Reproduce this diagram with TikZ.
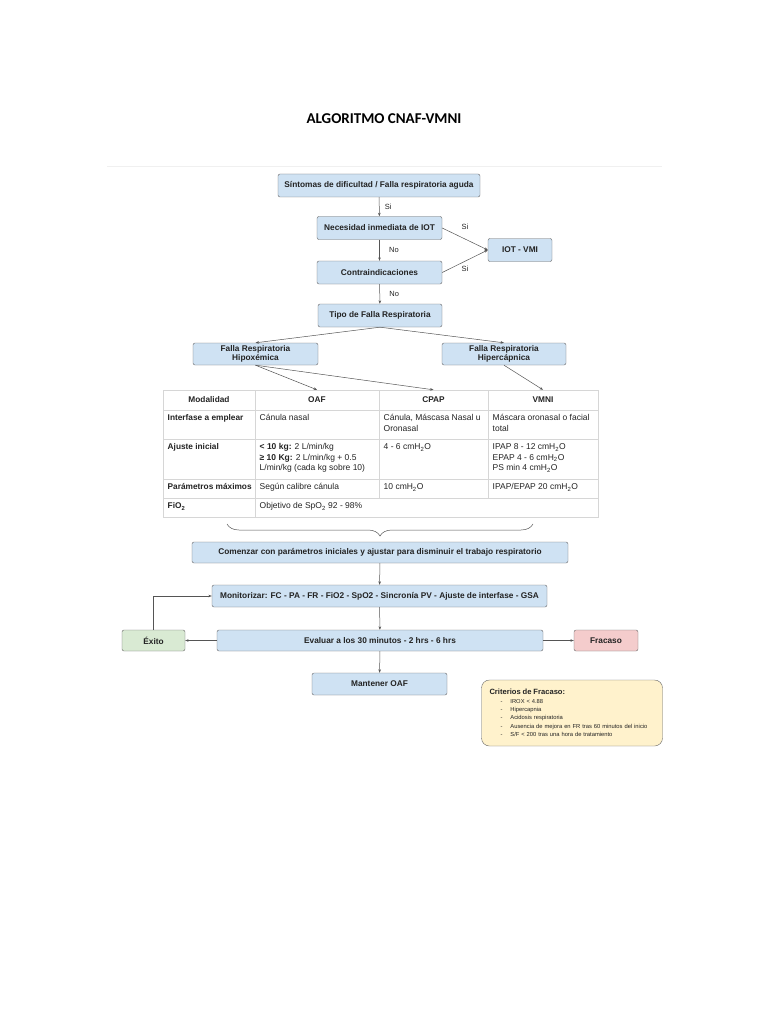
\documentclass[tikz,border=0pt]{standalone}
\usepackage{fontspec}
\setmainfont{Liberation Sans}
\newfontfamily\titlefont{Carlito}
\usetikzlibrary{arrows.meta, decorations.pathreplacing}

\definecolor{boxblue}{RGB}{207,226,243}
\definecolor{boxline}{RGB}{102,102,102}
\definecolor{okgreen}{RGB}{217,234,211}
\definecolor{badred}{RGB}{244,204,204}
\definecolor{critfill}{RGB}{255,242,204}
\definecolor{arrowgray}{RGB}{85,85,85}
\definecolor{gridgray}{RGB}{214,214,214}
\definecolor{textgray}{RGB}{35,35,35}

\tikzset{
  box/.style={rectangle, rounded corners=2pt, draw=boxline, fill=boxblue, text=textgray,
    font=\bfseries\fontsize{8.3}{9.3}\selectfont, align=center, minimum height=23, inner sep=1pt},
  greenbox/.style={box, fill=okgreen},
  redbox/.style={box, fill=badred},
  arr/.style={-{Stealth[length=3.5pt,width=2.6pt]}, draw=arrowgray, line width=0.5pt},
  lbl/.style={font=\fontsize{7.5}{8.5}\selectfont, text=textgray},
  gridline/.style={draw=gridgray, line width=0.6pt},
  headcell/.style={font=\bfseries\fontsize{8.3}{9.5}\selectfont, text=textgray, minimum height=20, inner sep=0pt},
  cell/.style={anchor=north west, inner xsep=4.5pt, inner ysep=4.5pt, align=left, text=textgray,
    font=\fontsize{8.5}{10.5}\selectfont},
  rowhead/.style={cell, font=\bfseries\fontsize{8.3}{10.5}\selectfont},
}

\begin{document}
\begin{tikzpicture}[x=1pt, y=-1pt]
    \useasboundingbox (0,0) rectangle (768,1024);

    % Title
    \node[font=\titlefont\bfseries\fontsize{15}{17}\selectfont, text=black] (title) at (384,119) {ALGORITMO CNAF-VMNI};
    \draw[gray!12, line width=1pt] (107,167) -- (662,167);

    % Draw nodes
    \node[box, minimum width=202] (sintomas) at (379,185.5) {Síntomas de dificultad / Falla respiratoria aguda};
    \node[box, minimum width=125] (necesidad) at (379.5,228) {Necesidad inmediata de IOT};
    \node[box, minimum width=64] (iot) at (520,250) {IOT - VMI};
    \node[box, minimum width=125] (contra) at (379.5,272.5) {Contraindicaciones};
    \node[box, minimum width=124] (tipo) at (380,315.5) {Tipo de Falla Respiratoria};
    \node[box, minimum width=125, minimum height=22] (hipox) at (255.5,354) {Falla Respiratoria\\Hipoxémica};
    \node[box, minimum width=124, minimum height=22] (hiperc) at (504,354) {Falla Respiratoria\\Hipercápnica};

    % Table
    \draw[gridline] (163,390) rectangle (598,517);
    \foreach \y in {410,439,479,498} \draw[gridline] (163,\y) -- (598,\y);
    \draw[gridline] (255,390) -- (255,517);
    \foreach \x in {379,488} \draw[gridline] (\x,390) -- (\x,498);

    \node[headcell, minimum width=92] (modalidad) at (209,400) {Modalidad};
    \node[headcell, minimum width=124] (oaf) at (317,400) {OAF};
    \node[headcell, minimum width=109] (cpap) at (433.5,400) {CPAP};
    \node[headcell, minimum width=110] (vmni) at (543,400) {VMNI};

    \node[rowhead] (interfase) at (163,410) {Interfase a emplear};
    \node[cell] (interoaf) at (255,410) {Cánula nasal};
    \node[cell] (intercpap) at (379,410) {Cánula, Máscasa Nasal u\\Oronasal};
    \node[cell] (intervmni) at (488,410) {Máscara oronasal o facial\\total};

    \node[rowhead] (ajuste) at (163,439) {Ajuste inicial};
    \node[cell] (ajusteoaf) at (255,439) {\textbf{< 10 kg:} 2 L/min/kg\\\textbf{≥ 10 Kg:} 2 L/min/kg + 0.5\\L/min/kg (cada kg sobre 10)};
    \node[cell] (ajustecpap) at (379,439) {4 - 6 cmH\textsubscript{2}O};
    \node[cell] (ajustevmni) at (488,439) {IPAP 8 - 12 cmH\textsubscript{2}O\\EPAP 4 - 6 cmH\textsubscript{2}O\\PS min 4 cmH\textsubscript{2}O};

    \node[rowhead] (maximos) at (163,479) {Parámetros máximos};
    \node[cell] (maxoaf) at (255,479) {Según calibre cánula};
    \node[cell] (maxcpap) at (379,479) {10 cmH\textsubscript{2}O};
    \node[cell] (maxvmni) at (488,479) {IPAP/EPAP 20 cmH\textsubscript{2}O};

    \node[rowhead] (fio) at (163,498) {FiO\textsubscript{2}};
    \node[cell] (fiotodos) at (255,498) {Objetivo de SpO\textsubscript{2} 92 - 98\%};

    % Brace under the table
    \coordinate (braceL) at (227,524);
    \coordinate (braceR) at (533,524);
    \draw[arrowgray, line width=0.5pt, decorate, decoration={brace, mirror, amplitude=12pt}] (braceL) -- (braceR);

    \node[box, minimum width=376, minimum height=21] (comenzar) at (380,552.5) {Comenzar con parámetros iniciales y ajustar para disminuir el trabajo respiratorio};
    \node[box, minimum width=335, minimum height=22] (monitor) at (379.5,596) {Monitorizar: FC - PA - FR - FiO2 - SpO2 - Sincronía PV - Ajuste de interfase - GSA};
    \node[box, minimum width=326, minimum height=21] (evaluar) at (380,640.5) {Evaluar a los 30 minutos - 2 hrs - 6 hrs};
    \node[greenbox, minimum width=63, minimum height=21] (exito) at (153.5,640.5) {Éxito};
    \node[redbox, minimum width=64, minimum height=21] (fracaso) at (606,640.5) {Fracaso};
    \node[box, minimum width=135, minimum height=22] (mantener) at (379.5,684) {Mantener OAF};

    \node[rectangle, rounded corners=8pt, draw=boxline, fill=critfill, text=textgray,
      minimum width=181, minimum height=66, text width=165, inner xsep=8pt, align=left,
      font=\fontsize{5.8}{8.4}\selectfont] (criterios) at (572,713)
      {{\bfseries\fontsize{7.6}{8.4}\selectfont Criterios de Fracaso:}\\
       \hspace*{11pt}-\hspace{8pt}IROX < 4.88\\
       \hspace*{11pt}-\hspace{8pt}Hipercapnia\\
       \hspace*{11pt}-\hspace{8pt}Acidosis respiratoria\\
       \hspace*{11pt}-\hspace{8pt}Ausencia de mejora en FR tras 60 minutos del inicio\\
       \hspace*{11pt}-\hspace{8pt}S/F < 200 tras una hora de tratamiento};

    % Draw connections
    \draw[arr] (sintomas) -- (necesidad) node[lbl, midway, right=2pt] {Si};
    \draw[arr] (necesidad) -- (contra) node[lbl, midway, right=6pt] {No};
    \draw[arr] (necesidad.east) -- (iot.west) node[lbl, midway, above=6pt] {Si};
    \draw[arr] (contra.east) -- (iot.west) node[lbl, midway, below=1pt] {Si};
    \draw[arr] (contra) -- (tipo) node[lbl, midway, right=6pt] {No};
    \draw[arr] (tipo.south) -- (hipox.north);
    \draw[arr] (tipo.south) -- (hiperc.north);
    \draw[arr] (hipox.south) -- (oaf.north);
    \draw[arr] (hipox.south) -- (cpap.north);
    \draw[arr] (hiperc.south) -- (vmni.north);
    \draw[arr] (comenzar) -- (monitor);
    \draw[arr] (monitor) -- (evaluar);
    \draw[arr] (evaluar) -- (exito);
    \draw[arr] (evaluar) -- (fracaso);
    \draw[arr] (evaluar) -- (mantener);
    \draw[arr] (exito.north) |- (monitor.west);
\end{tikzpicture}
\end{document}
